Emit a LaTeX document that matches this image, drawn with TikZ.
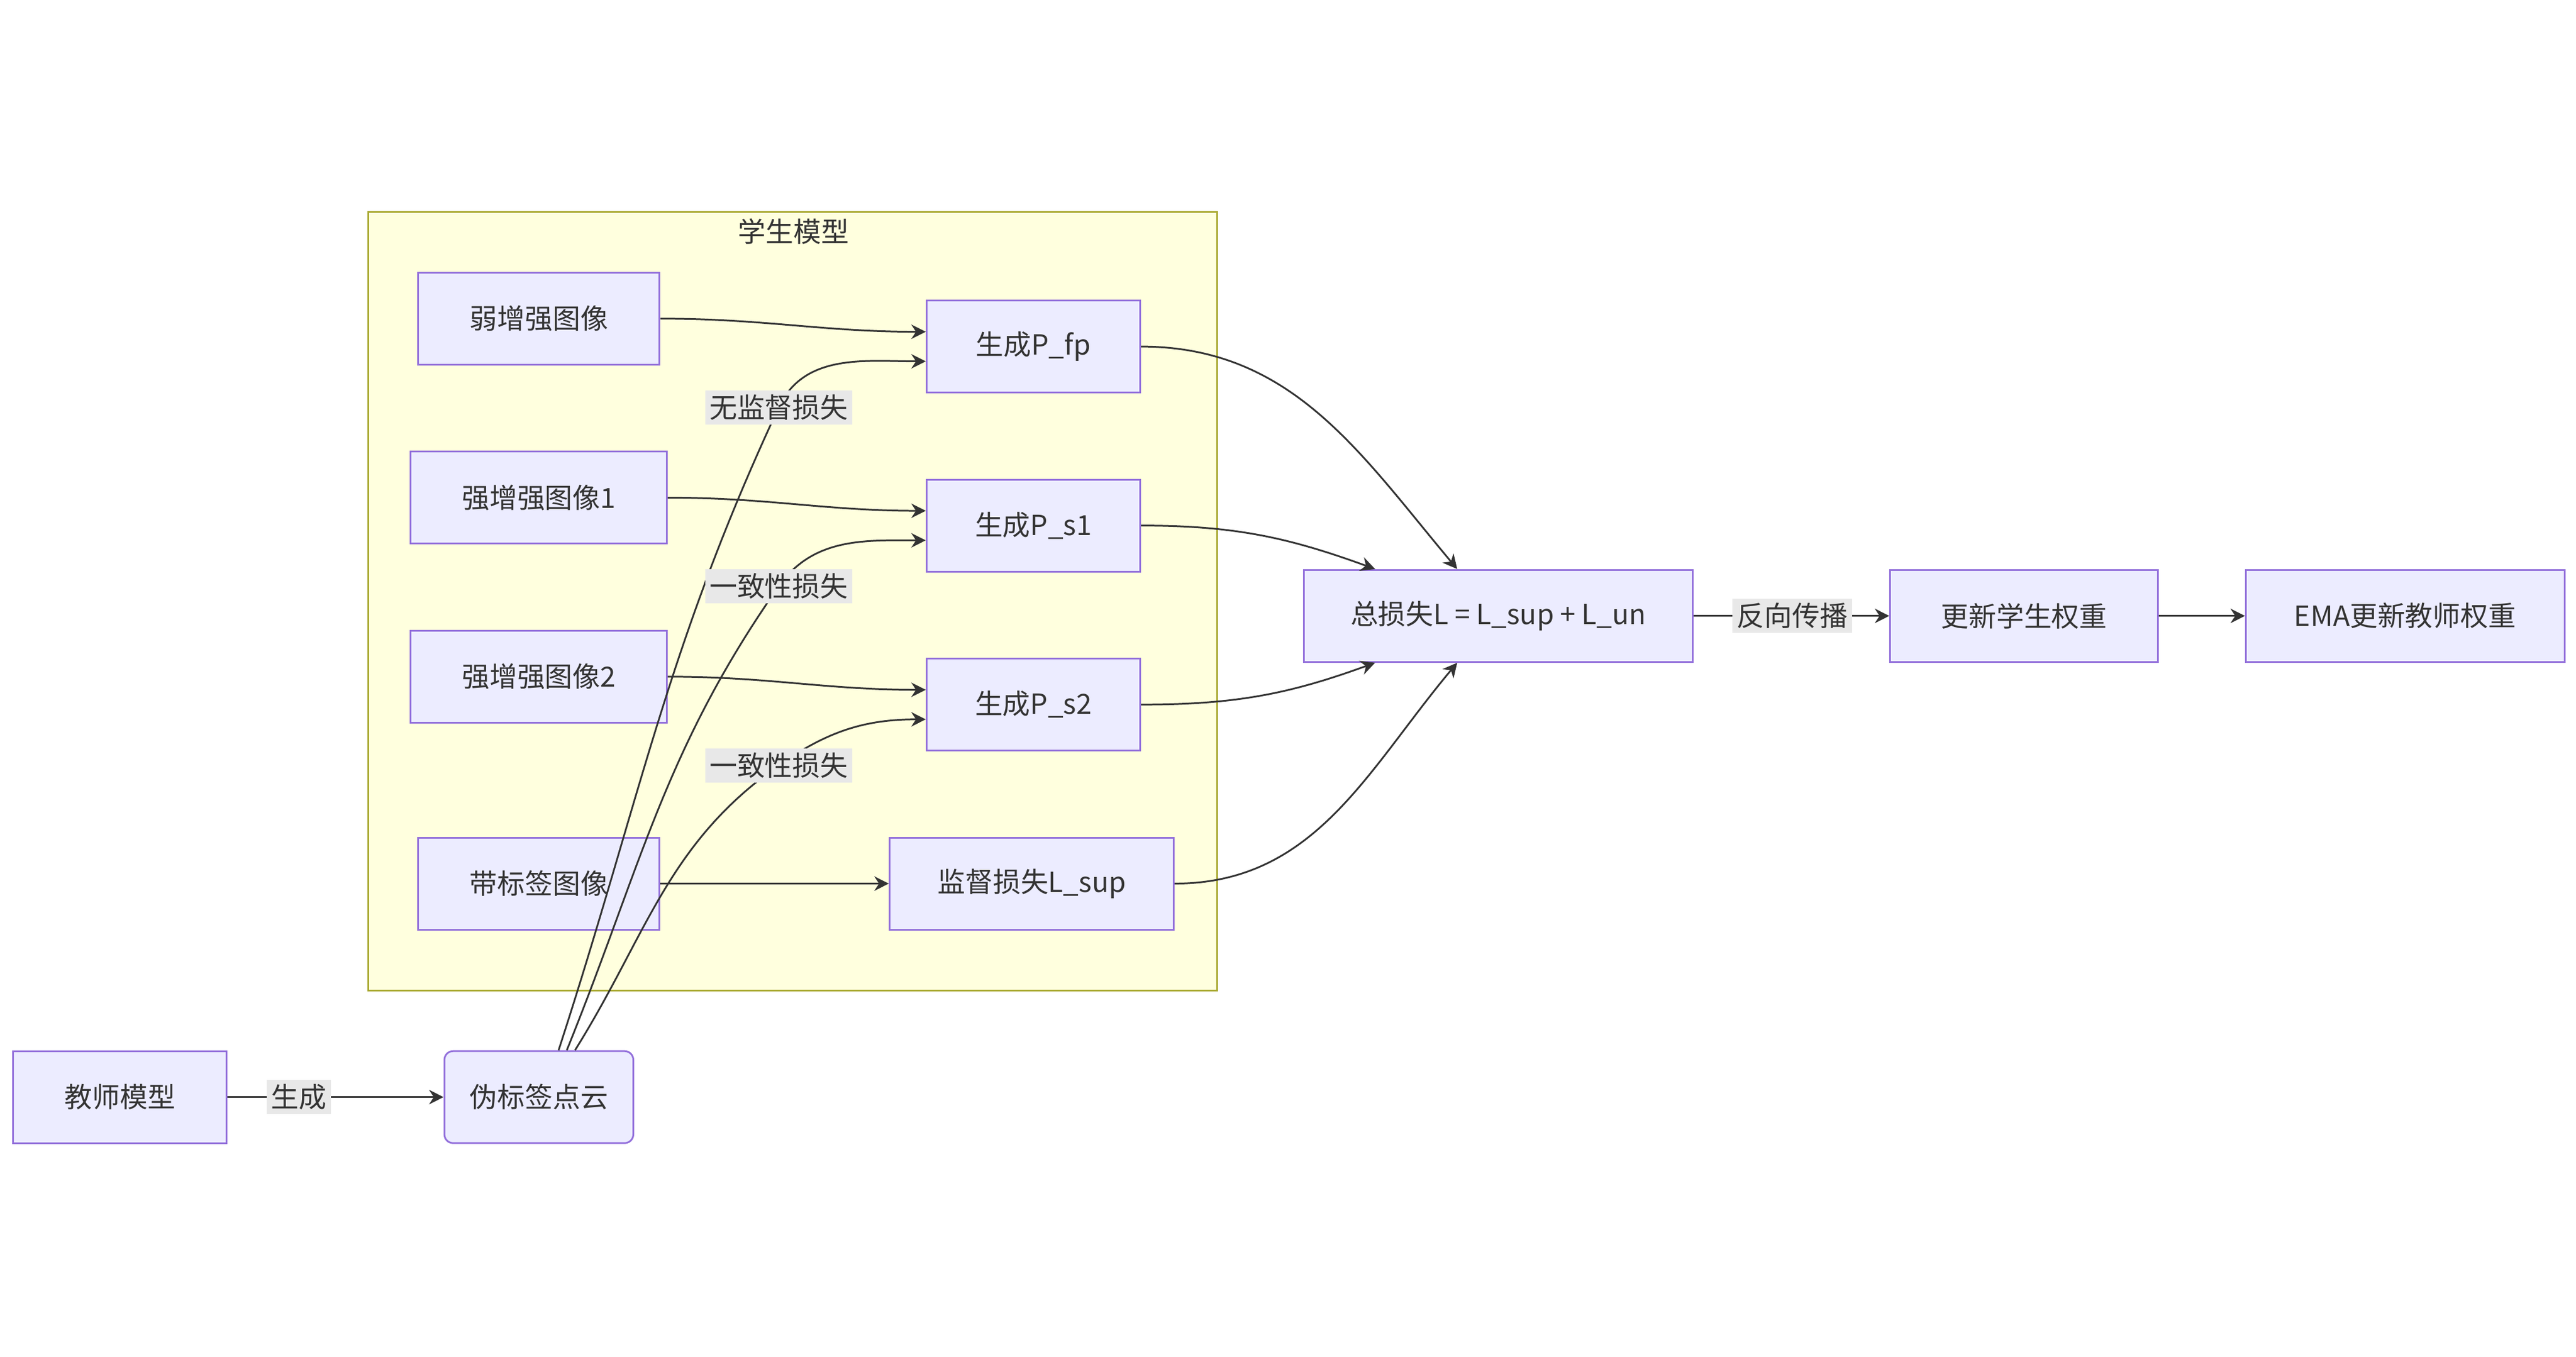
\documentclass[tikz,border=0pt]{standalone}
\usepackage{fontspec}
\setmainfont{Noto Sans CJK SC}
\usetikzlibrary{arrows.meta}
\definecolor{boxfill}{HTML}{ECECFF}
\definecolor{boxline}{HTML}{9370DB}
\definecolor{clfill}{HTML}{FFFFDE}
\definecolor{clline}{HTML}{AAAA33}
\definecolor{lblfill}{HTML}{E8E8E8}
\tikzset{
    box/.style = {draw=boxline, fill=boxfill, line width=0.6pt, minimum height=1.12cm,
        inner sep=0pt, text=black!80},
    lbl/.style = {fill=lblfill, inner sep=1.5pt, text=black!80},
    edge/.style = {-{Stealth[length=5pt,width=5pt]}, line width=0.6pt, draw=black!80},
}
\begin{document}
\begin{tikzpicture}[x=0.02cm, y=-0.02cm, font=\fontsize{9.6}{12}\selectfont]
\useasboundingbox (0,0) rectangle (1568,826);
% student cluster
\draw[fill=clfill, draw=clline, line width=0.6pt] (224,129) rectangle (741,603);
\node[text=black!80] (cl) at (483,141) {学生模型};

\node[box, minimum width=2.94cm] (weak) at (328,194) {弱增强图像};
\node[box, minimum width=3.12cm] (s1) at (328,303) {强增强图像1};
\node[box, minimum width=3.12cm] (s2) at (328,412) {强增强图像2};
\node[box, minimum width=2.94cm] (lab) at (328,538) {带标签图像};
\node[box, minimum width=2.6cm] (pfp) at (629,211) {生成P\_fp};
\node[box, minimum width=2.6cm] (ps1) at (629,320) {生成P\_s1};
\node[box, minimum width=2.6cm] (ps2) at (629,429) {生成P\_s2};
\node[box, minimum width=3.46cm] (sup) at (628,538) {监督损失L\_sup};
\node[box, minimum width=4.74cm] (tot) at (912,375) {总损失L = L\_sup + L\_un};
\node[box, minimum width=3.26cm] (upd) at (1232,375) {更新学生权重};
\node[box, minimum width=3.88cm] (ema) at (1464,375) {EMA更新教师权重};
\node[box, minimum width=2.6cm] (tea) at (73,668) {教师模型};
\node[box, minimum width=2.3cm, rounded corners=3pt] (pl) at (328,668) {伪标签点云};

\coordinate (u1) at (474,248);
\coordinate (u2) at (474,357);
\coordinate (u3) at (474,466);
\coordinate (g1) at (182,668);
\coordinate (g2) at (1091,375);

% edges
\draw[edge] (weak.east) to[out=0,in=180] ([yshift=0.18cm]pfp.west);
\draw[edge] (s1.east) to[out=0,in=180] ([yshift=0.18cm]ps1.west);
\draw[edge] (s2.east) to[out=0,in=180] ([yshift=0.18cm]ps2.west);
\draw[edge] (lab) -- (sup);
\draw[edge] ([xshift=0.24cm]pl.north) to[out=72,in=245] (u1) to[out=65,in=180] ([yshift=-0.18cm]pfp.west);
\draw[edge] ([xshift=0.34cm]pl.north) to[out=68,in=235] (u2) to[out=55,in=180] ([yshift=-0.18cm]ps1.west);
\draw[edge] ([xshift=0.44cm]pl.north) to[out=58,in=215] (u3) to[out=35,in=180] ([yshift=-0.18cm]ps2.west);
\draw[edge] (pfp.east) to[out=0,in=130] ([xshift=-0.5cm]tot.north);
\draw[edge] (ps1.east) to[out=0,in=160] ([xshift=-1.5cm]tot.north);
\draw[edge] (ps2.east) to[out=0,in=200] ([xshift=-1.5cm]tot.south);
\draw[edge] (sup.east) to[out=0,in=230] ([xshift=-0.5cm]tot.south);
\draw[edge] (tea) -- (g1) -- (pl);
\draw[edge] (tot) -- (g2) -- (upd);
\draw[edge] (upd) -- (ema);

% edge labels
\node[lbl] (l1) at (u1) {无监督损失};
\node[lbl] (l2) at (u2) {一致性损失};
\node[lbl] (l3) at (u3) {一致性损失};
\node[lbl] (l4) at (g1) {生成};
\node[lbl] (l5) at (g2) {反向传播};
\end{tikzpicture}
\end{document}
